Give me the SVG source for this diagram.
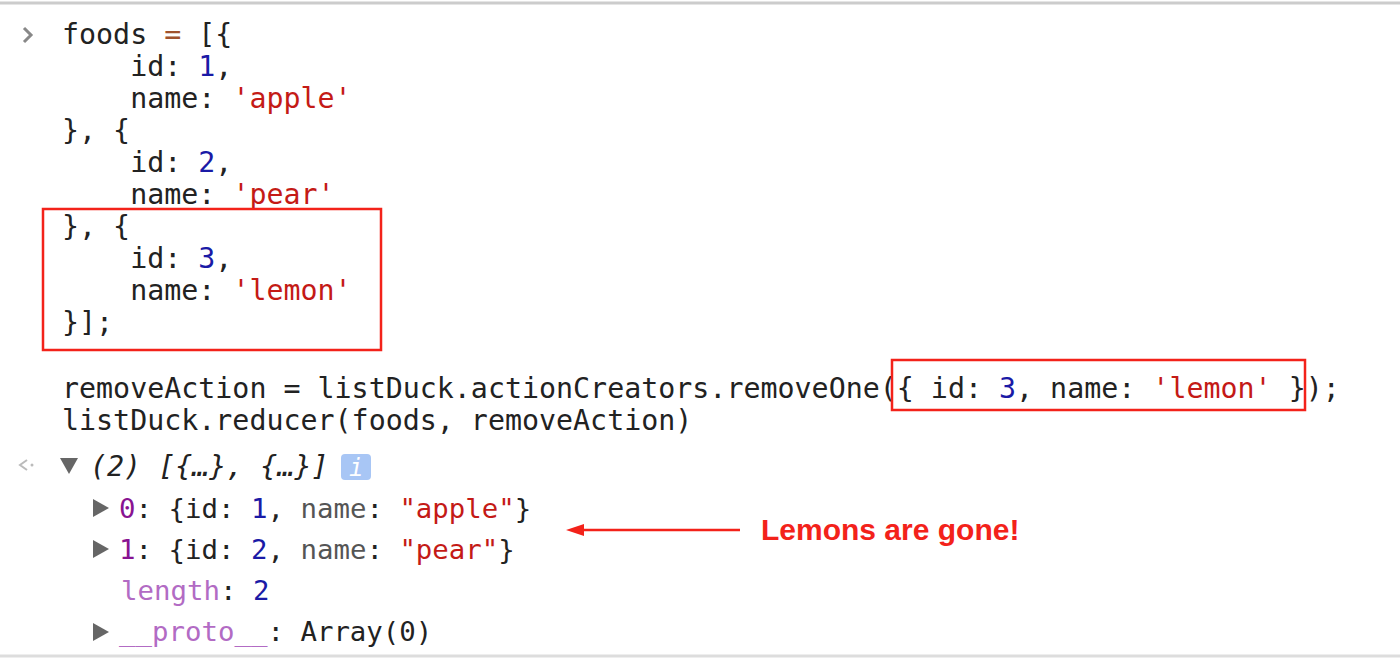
<svg xmlns="http://www.w3.org/2000/svg" width="1400" height="659" viewBox="0 0 1400 659">
<style>
text{font-family:"DejaVu Sans Mono",monospace;font-size:28.3px;fill:#222;white-space:pre}
.n{fill:#1a1aa6}.s{fill:#c41a16}.o{fill:#a0522d}.p{fill:#881391}.l{fill:#b26bc4}.g{fill:#555}
.box{fill:none;stroke:#f3221a;stroke-width:2.5}
</style>
<defs><marker id="a2" viewBox="0 0 18 12" refX="2" refY="6" markerWidth="18" markerHeight="12" orient="auto" markerUnits="userSpaceOnUse"><path d="M0,0L18,6L0,12z" fill="#f3221a"/></marker></defs>
<rect width="1400" height="659" fill="#fff"/>
<line x1="0" y1="3" x2="1400" y2="3" stroke="#ccc" stroke-width="3"/>
<line x1="0" y1="656" x2="1400" y2="656" stroke="#ddd" stroke-width="3"/>
<g id="input">
<path d="M24,28L31,35L24,42" fill="none" stroke="#888" stroke-width="3"/>
<text x="62" y="44">foods <tspan class="o">=</tspan> [{</text>
<text x="62" y="76">    id: <tspan class="n">1</tspan>,</text>
<text x="62" y="108">    name: <tspan class="s">'apple'</tspan></text>
<text x="62" y="140">}, {</text>
<text x="62" y="172">    id: <tspan class="n">2</tspan>,</text>
<text x="62" y="204">    name: <tspan class="s">'pear'</tspan></text>
<text x="62" y="236">}, {</text>
<text x="62" y="268">    id: <tspan class="n">3</tspan>,</text>
<text x="62" y="300">    name: <tspan class="s">'lemon'</tspan></text>
<text x="62" y="332">}];</text>
<text x="62" y="398">removeAction = listDuck.actionCreators.removeOne({ id: <tspan class="n">3</tspan>, name: <tspan class="s">'lemon'</tspan> });</text>
<text x="62" y="430">listDuck.reducer(foods, removeAction)</text>
</g>
<g id="output">
<path d="M27,460L20,465L27,470" fill="none" stroke="#bbb" stroke-width="2"/><circle cx="32" cy="465" r="1.5" fill="#bbb"/>
<path d="M60,458L78,458L69,474z" fill="#666"/>
<text x="90" y="476" font-style="italic">(2) [{…}, {…}]</text>
<rect x="341" y="454" width="30" height="26" rx="4" fill="#a8c6f5"/>
<text x="349" y="476" style="fill:#fff;font-style:italic;font-size:24px">i</text>
<path d="M93,499L109,508L93,517z" fill="#666"/>
<text x="119" y="518" style="font-size:27.4px"><tspan class="p">0</tspan>: {id: <tspan class="n">1</tspan>, <tspan class="g">name</tspan>: <tspan class="s">"apple"</tspan>}</text>
<path d="M93,540L109,549L93,558z" fill="#666"/>
<text x="119" y="559" style="font-size:27.4px"><tspan class="p">1</tspan>: {id: <tspan class="n">2</tspan>, <tspan class="g">name</tspan>: <tspan class="s">"pear"</tspan>}</text>
<text x="121" y="600" style="font-size:27.4px"><tspan class="l">length</tspan>: <tspan class="n">2</tspan></text>
<path d="M93,623L109,632L93,641z" fill="#666"/>
<text x="119" y="641" style="font-size:27.4px"><tspan class="l">__proto__</tspan>: Array(0)</text>
</g>
<g id="highlights">
<rect class="box" x="43" y="209" width="338" height="141"/>
<rect class="box" x="892" y="360" width="413" height="50"/>
</g>
<g id="connectors">
<line x1="740" y1="530" x2="582" y2="530" stroke="#f3221a" stroke-width="2.5" marker-end="url(#a2)"/>
</g>
<g id="note"><text x="761" y="540" style="font-family:'Liberation Sans',Arial,sans-serif;font-weight:bold;font-size:30px;fill:#f3221a">Lemons are gone!</text></g>
</svg>
